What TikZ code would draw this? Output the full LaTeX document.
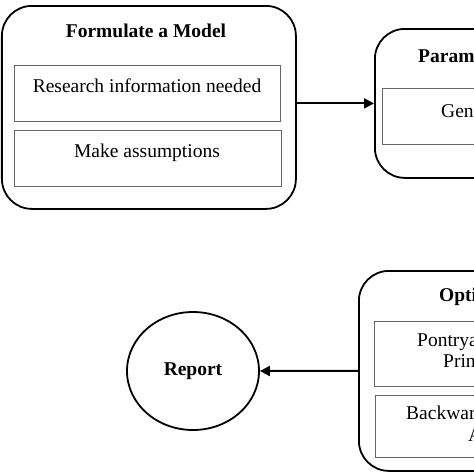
\documentclass[tikz,border=0pt]{standalone}
\usepackage{fontspec}
\setmainfont{Liberation Serif}
\usetikzlibrary{arrows.meta,shapes.geometric}
\begin{document}
\begin{tikzpicture}[x=1pt,y=-1pt,
    stage/.style={draw,line width=1.8pt,rounded corners=30pt,anchor=north west,inner sep=0pt},
    task/.style={draw=black!60,line width=1pt,anchor=north west,inner sep=0pt},
    flow/.style={line width=2pt,-{Triangle[length=10pt,width=10pt]}},
    txt/.style={font=\fontsize{19.5}{23}\selectfont,inner sep=0pt},
    ttl/.style={font=\fontsize{19.5}{23}\selectfont\bfseries,inner sep=0pt}]
    \useasboundingbox (0,0) rectangle (474,474);
    \clip (0,0) rectangle (474,474);
    % primo blocco: formulazione del modello
    \node[stage,minimum width=294pt,minimum height=203pt] (model) at (1,5) {};
    \node[task,minimum width=266pt,minimum height=56pt] (research) at (14,65) {};
    \node[task,minimum width=267pt,minimum height=56pt] (assume) at (14,130) {};
    \node[ttl,anchor=base] (modeltitle) at (146,37) {Formulate a Model};
    \node[txt,anchor=base] (researchtext) at (147,92) {Research information needed};
    \node[txt,anchor=base] (assumetext) at (147,157) {Make assumptions};
    % secondo blocco (tagliato a destra)
    \node[stage,minimum width=240pt,minimum height=149pt] (param) at (374,28) {};
    \node[task,minimum width=230pt,minimum height=56pt] (generate) at (382,88) {};
    \node[ttl,anchor=base west] (paramtitle) at (418,62) {Param};
    \node[txt,anchor=base west] (generatetext) at (441,117) {Gen};
    % terzo blocco (tagliato a destra)
    \node[stage,minimum width=250pt,minimum height=200pt] (optimal) at (358,270) {};
    \node[task,minimum width=240pt,minimum height=65pt] (pontry) at (374,321) {};
    \node[task,minimum width=240pt,minimum height=62pt] (backward) at (375,395) {};
    \node[ttl,anchor=base west] (optimaltitle) at (439,301) {Opti};
    \node[txt,anchor=base west] (pontrytext) at (417,346) {Pontrya};
    \node[txt,anchor=base west] (prinText) at (443,367) {Prin};
    \node[txt,anchor=base west] (backwardtext) at (406,419) {Backwar};
    \node[txt,anchor=base west] (algtext) at (468,441) {A};
    % ellisse finale
    \node[ellipse,draw,line width=1.8pt,minimum width=132pt,minimum height=118pt,
      font=\fontsize{19.5}{23}\selectfont\bfseries] (report) at (193,371) {Report};
    % frecce
    \draw[flow] (model.east |- param.west) -- (param.west); % modello -> parametri
    \draw[flow] (optimal.west) -- (report.east); % controllo -> report
\end{tikzpicture}
\end{document}
